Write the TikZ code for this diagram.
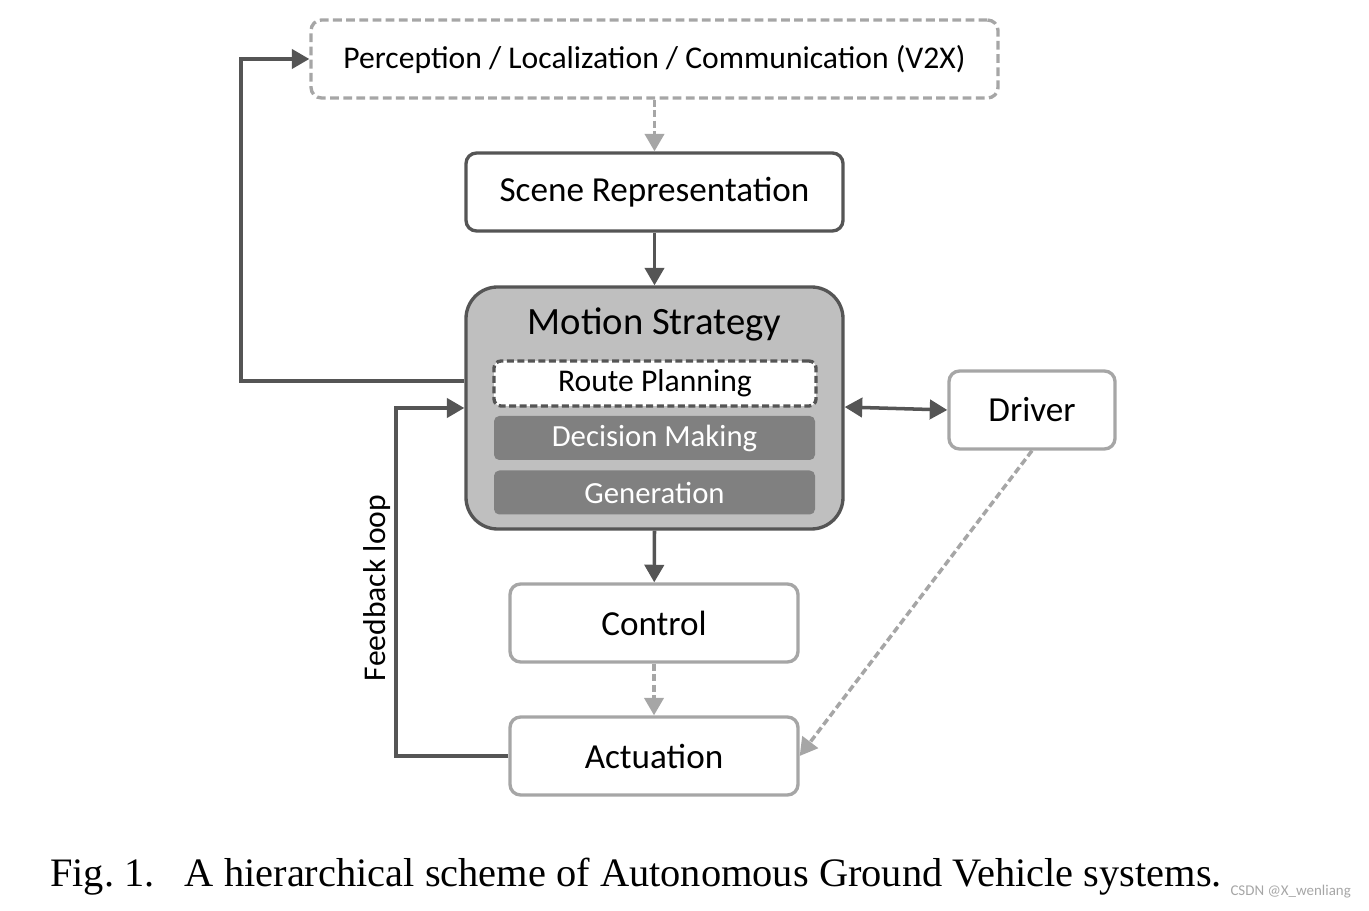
\documentclass[tikz,border=0pt]{standalone}
\usepackage{fontspec}
\setmainfont{Carlito}
\newfontfamily\capfont{Liberation Serif}
\usetikzlibrary{arrows.meta}
\definecolor{darkline}{HTML}{555555}
\definecolor{lightline}{HTML}{A6A6A6}
\definecolor{msfill}{HTML}{BFBFBF}
\definecolor{subfill}{HTML}{808080}
\begin{document}
\begin{tikzpicture}[x=0.02cm, y=-0.02cm,
    box/.style={draw, rounded corners=6pt, line width=1.9pt, fill=white, inner sep=0pt},
    darkbox/.style={box, draw=darkline},
    lightbox/.style={box, draw=lightline},
    sub/.style={draw=none, rounded corners=3pt, fill=subfill, text=white, minimum width=321*0.02cm, minimum height=44*0.02cm, font=\fontsize{17.5}{19}\selectfont},
    darrow/.style={draw=darkline, line width=2pt, -{Triangle[length=10pt,width=11pt]}},
    larrow/.style={draw=lightline, line width=2pt, dashed, dash pattern=on 4pt off 2pt, -{Triangle[length=10pt,width=11pt]}}
  ]
  \useasboundingbox (0,0) rectangle (1369,911);
  % Nodes
  \node[lightbox, dashed, dash pattern=on 5pt off 2.5pt, minimum width=687*0.02cm, minimum height=78*0.02cm, font=\fontsize{18}{20}\selectfont] (percep) at (654.5,59) {Perception / Localization / Communication (V2X)};
  \node[darkbox, minimum width=377*0.02cm, minimum height=78*0.02cm, font=\fontsize{20}{22}\selectfont] (scene) at (654.5,192) {Scene Representation};
  \node[darkbox, fill=msfill, rounded corners=18pt, minimum width=377*0.02cm, minimum height=242*0.02cm] (motion) at (654.5,408) {};
  \node[font=\fontsize{22}{24}\selectfont] (mstitle) at (654.5,324) {Motion Strategy};
  \node[darkbox, dashed, dash pattern=on 4pt off 2pt, rounded corners=4pt, minimum width=322*0.02cm, minimum height=45*0.02cm, font=\fontsize{18}{20}\selectfont] (route) at (655,383.5) {Route Planning};
  \node[sub] (decision) at (654.5,438) {Decision Making};
  \node[sub] (gen) at (654.5,492.5) {Generation};
  \node[lightbox, minimum width=166*0.02cm, minimum height=78*0.02cm, font=\fontsize{20}{22}\selectfont] (driver) at (1032,410) {Driver};
  \node[lightbox, minimum width=288*0.02cm, minimum height=78*0.02cm, font=\fontsize{20}{22}\selectfont] (control) at (654,623) {Control};
  \node[lightbox, minimum width=288*0.02cm, minimum height=78*0.02cm, font=\fontsize{20}{22}\selectfont] (actu) at (654,756) {Actuation};
  \node[rotate=90, font=\fontsize{18}{20}\selectfont] (fbl) at (377,588) {Feedback loop};
  \node[anchor=west, font=\capfont\fontsize{23}{25}\selectfont] (caption) at (44,877) {Fig.~1.\ \ \ A hierarchical scheme of Autonomous Ground Vehicle systems.};
  \node[anchor=east, text=gray!70, font=\fontsize{8.5}{9}\selectfont] (wm) at (1357,892) {CSDN @X\_wenliang};
  % Arrows
  \draw[larrow] (percep) -- (scene);
  \draw[darrow] (scene) -- (motion);
  \draw[darrow] (motion.south) -- (control);
  \draw[larrow] (control) -- (actu);
  \draw[darrow, {Triangle[length=10pt,width=11pt]}-{Triangle[length=10pt,width=11pt]}] (motion.east |- 0,407) -- (driver.west);
  \draw[darrow] (motion.west |- 0,381) -| (241,59) -- (percep.west);
  \draw[darrow] (actu.west) -| (396,408) -- (motion.west |- 0,408);
  \draw[larrow] (driver.south) -- (actu.east);
\end{tikzpicture}
\end{document}
